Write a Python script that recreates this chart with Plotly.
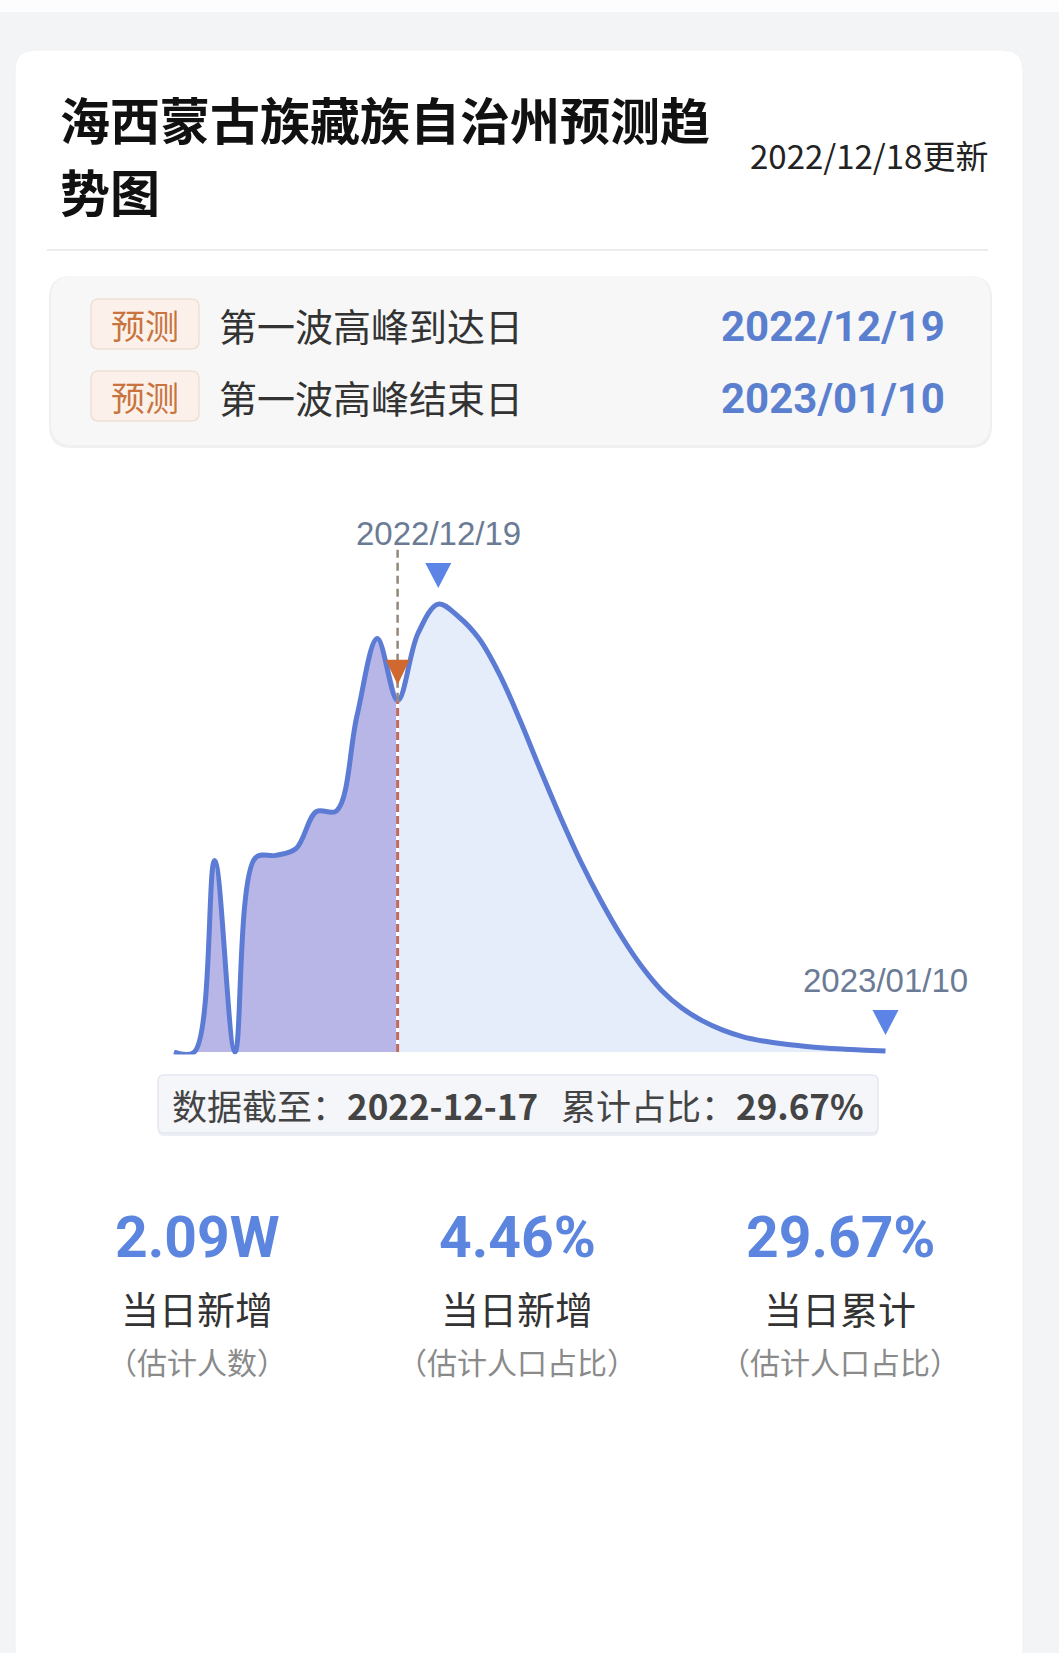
import plotly.graph_objects as go

# ---------------- data ----------------
dates = [
    "2022-12-06", "2022-12-07", "2022-12-08", "2022-12-09", "2022-12-10", "2022-12-11",
    "2022-12-12", "2022-12-13", "2022-12-14", "2022-12-15", "2022-12-16", "2022-12-17",
    "2022-12-18", "2022-12-19", "2022-12-20", "2022-12-21", "2022-12-22", "2022-12-23",
    "2022-12-24", "2022-12-25", "2022-12-26", "2022-12-27", "2022-12-28", "2022-12-29",
    "2022-12-30", "2022-12-31", "2023-01-01", "2023-01-02", "2023-01-03", "2023-01-04",
    "2023-01-05", "2023-01-06", "2023-01-07", "2023-01-08", "2023-01-09", "2023-01-10",
]
new_cases = [
    0, 0, 11400, 0, 11550, 11700,
    12100, 14300, 14350, 20000, 24600, 20900,
    24900, 26650, 25900, 24600, 22500, 19800,
    16850, 14000, 11350, 9000, 6900, 5100,
    3650, 2600, 1850, 1300, 900, 650,
    470, 340, 240, 170, 110, 60,
]
cutoff_date = "2022-12-17"
peak_date = "2022-12-19"
end_date = "2023-01-10"
peak_label = "2022/12/19"
end_label = "2023/01/10"

title_lines = ["海西蒙古族藏族自治州预测趋", "势图"]
update_text = "2022/12/18更新"
info_tags = ["预测", "预测"]
info_labels = ["第一波高峰到达日", "第一波高峰结束日"]
info_dates = ["2022/12/19", "2023/01/10"]
box_left_label, box_left_value = "数据截至：", "2022-12-17"
box_right_label, box_right_value = "累计占比：", "29.67%"
stat_values = ["2.09W", "4.46%", "29.67%"]
stat_labels = ["当日新增", "当日新增", "当日累计"]
stat_subs = ["（估计人数）", "（估计人口占比）", "（估计人口占比）"]

# ---------------- geometry helpers ----------------
W, H = 1059, 1653


def X(px):
    return px / W


def Y(py):
    return 1 - py / H


def rrect(x0, y0, x1, y1, r):
    return (
        f"M{X(x0 + r)},{Y(y0)} L{X(x1 - r)},{Y(y0)} Q{X(x1)},{Y(y0)} {X(x1)},{Y(y0 + r)} "
        f"L{X(x1)},{Y(y1 - r)} Q{X(x1)},{Y(y1)} {X(x1 - r)},{Y(y1)} "
        f"L{X(x0 + r)},{Y(y1)} Q{X(x0)},{Y(y1)} {X(x0)},{Y(y1 - r)} "
        f"L{X(x0)},{Y(y0 + r)} Q{X(x0)},{Y(y0)} {X(x0 + r)},{Y(y0)} Z"
    )


CJK = "Noto Sans CJK SC"
LINE_C = "#5b7bd4"
HIST_FILL = "#b8b6e6"
FCST_FILL = "#e5edfb"
TRI_BLUE = "#5b84e6"
TRI_ORANGE = "#d0692f"

n_hist = dates.index(cutoff_date) + 1
cut_val = new_cases[dates.index(cutoff_date)]
peak_val = new_cases[dates.index(peak_date)]
end_val = new_cases[dates.index(end_date)]

# axes geometry
PX_DAY = 20.33
x_lo_px = 174 - PX_DAY
x_hi_px = 885.5 + PX_DAY
CNT_PER_PX = 59.5
y_lo, y_hi = -600, 30000
base_px = 1052
y_lo_px = base_px - y_lo / CNT_PER_PX
y_hi_px = base_px - y_hi / CNT_PER_PX

fig = go.Figure()
fig.add_trace(go.Scatter(
    x=dates, y=new_cases, mode="lines", line=dict(shape="spline", width=0, color=FCST_FILL),
    fill="tozeroy", fillcolor=FCST_FILL, hoverinfo="skip", showlegend=False))
fig.add_trace(go.Scatter(
    x=dates[:n_hist], y=new_cases[:n_hist], mode="lines",
    line=dict(shape="spline", width=0, color=HIST_FILL),
    fill="tozeroy", fillcolor=HIST_FILL, hoverinfo="skip", showlegend=False))
fig.add_trace(go.Scatter(
    x=dates, y=new_cases, mode="lines", line=dict(shape="spline", width=5, color=LINE_C),
    hoverinfo="skip", showlegend=False))

shapes = []
# background card elements
shapes.append(dict(type="rect", xref="paper", yref="paper", x0=0, x1=1, y0=Y(12), y1=1,
                   fillcolor="#fdfdfd", line=dict(width=0), layer="below"))
shapes.append(dict(type="path", xref="paper", yref="paper", path=rrect(15, 50, 1023, 1700, 20),
                   fillcolor="#ffffff", line=dict(color="#eef0f3", width=1), layer="below"))
shapes.append(dict(type="line", xref="paper", yref="paper", x0=X(47), x1=X(988), y0=Y(250), y1=Y(250),
                   line=dict(color="#ececec", width=2), layer="below"))
shapes.append(dict(type="path", xref="paper", yref="paper", path=rrect(49, 276, 992, 448, 22),
                   fillcolor="#f0f0f2", line=dict(width=0), layer="below"))
shapes.append(dict(type="path", xref="paper", yref="paper", path=rrect(51, 276, 990, 445, 22),
                   fillcolor="#f7f7f8", line=dict(width=0), layer="below"))
row_y = [324, 396]
for ry in row_y:
    shapes.append(dict(type="path", xref="paper", yref="paper", path=rrect(91, ry - 25, 199, ry + 25, 8),
                       fillcolor="#fcf1ea", line=dict(color="#efdfd4", width=1.5), layer="below"))
# data box
shapes.append(dict(type="path", xref="paper", yref="paper", path=rrect(158, 1077, 878, 1136, 6),
                   fillcolor="#eceff5", line=dict(width=0), layer="below"))
shapes.append(dict(type="path", xref="paper", yref="paper", path=rrect(158, 1075, 878, 1133, 6),
                   fillcolor="#f4f6fa", line=dict(color="#e3e7ef", width=1.5), layer="below"))

# mask under the baseline (hides spline overshoot below zero)
shapes.append(dict(type="rect", xref="paper", yref="paper", x0=X(150), x1=X(910),
                   y0=Y(y_lo_px + 2), y1=Y(base_px + 2.5),
                   fillcolor="#ffffff", line=dict(width=0), layer="above"))

# dashed cutoff line: upper (above curve) and lower (inside fill)
shapes.append(dict(type="line", xref="x", yref="y", xsizemode="pixel", ysizemode="pixel",
                   xanchor=cutoff_date, yanchor=cut_val, x0=0, x1=0, y0=0, y1=153,
                   line=dict(color="#94877a", width=2.5, dash="8px,5px"), layer="above"))
shapes.append(dict(type="line", xref="x", yref="y", x0=cutoff_date, x1=cutoff_date, y0=0, y1=cut_val,
                   line=dict(color="#ffffff", width=3), layer="above"))
shapes.append(dict(type="line", xref="x", yref="y", x0=cutoff_date, x1=cutoff_date, y0=0, y1=cut_val,
                   line=dict(color="#bf6a5e", width=3, dash="8px,4px"), layer="above"))

# triangles
for d, v, c, hw in [(peak_date, peak_val, TRI_BLUE, 13), (cutoff_date, cut_val, TRI_ORANGE, 12),
                    (end_date, end_val, TRI_BLUE, 13)]:
    shapes.append(dict(type="path", xref="x", yref="y", xsizemode="pixel", ysizemode="pixel",
                       xanchor=d, yanchor=v, path=f"M-{hw},41 L{hw},41 L0,16 Z",
                       fillcolor=c, line=dict(width=0), layer="above"))

annotations = []


def ann(text, x, y, size, color, family=CJK, xanchor="left", yanchor="middle", **kw):
    annotations.append(dict(text=text, x=X(x), y=Y(y), xref="paper", yref="paper", showarrow=False,
                            xanchor=xanchor, yanchor=yanchor,
                            font=dict(size=size, color=color, family=family), **kw))


# title
ann("<b>" + title_lines[0] + "</b>", 58, 118, 50, "#111111")
ann("<b>" + title_lines[1] + "</b>", 58, 190, 50, "#111111")
ann(update_text, 990, 155, 33, "#222222", xanchor="right")

# info rows
for i, ry in enumerate(row_y):
    ann(info_tags[i], 145, ry, 34, "#c8743f", xanchor="center")
    ann(info_labels[i], 217, ry + 1, 38, "#333333")
    ann("<b>" + info_dates[i] + "</b>", 947, ry + 2, 42, "#5b7fcf", family="Roboto", xanchor="right")

# chart labels
annotations.append(dict(text=peak_label, x=peak_date, y=peak_val, xref="x", yref="y", yshift=71,
                        showarrow=False, xanchor="center", yanchor="middle",
                        font=dict(size=33, color="#6b7b95", family="Liberation Sans")))
annotations.append(dict(text=end_label, x=end_date, y=end_val, xref="x", yref="y", yshift=70,
                        showarrow=False, xanchor="center", yanchor="middle",
                        font=dict(size=33, color="#6b7b95", family="Liberation Sans")))

# data box text
ann(box_left_label + "<b>" + box_left_value + "</b>", 170, 1104, 35, "#444444")
ann(box_right_label + "<b>" + box_right_value + "</b>", 866, 1104, 35, "#444444", xanchor="right")

# stats
stat_x = [197, 517, 840]
for i, sx in enumerate(stat_x):
    ann("<b>" + stat_values[i] + "</b>", sx, 1237, 57, "#5b85de", family="Roboto", xanchor="center")
    ann(stat_labels[i], sx, 1307, 38, "#333333", xanchor="center")
    ann(stat_subs[i], sx, 1361, 30, "#8a8a8a", xanchor="center")

fig.update_layout(
    width=W, height=H, autosize=False,
    margin=dict(l=0, r=0, t=0, b=0, pad=0),
    paper_bgcolor="#f3f4f6", plot_bgcolor="rgba(0,0,0,0)",
    xaxis=dict(range=["2022-12-05", "2023-01-11"], domain=[X(x_lo_px), X(x_hi_px)], visible=False,
               showgrid=False, zeroline=False, fixedrange=True),
    yaxis=dict(range=[y_lo, y_hi], domain=[Y(y_lo_px), Y(y_hi_px)], visible=False,
               showgrid=False, zeroline=False, fixedrange=True),
    shapes=shapes, annotations=annotations, showlegend=False,
)

fig.write_html("out.html", config={"displayModeBar": False},
               post_script="document.body.style.margin='0';document.body.style.overflow='hidden';")
